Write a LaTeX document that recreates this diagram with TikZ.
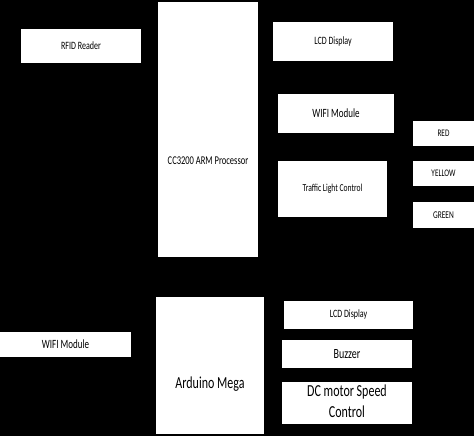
\documentclass[tikz,border=0pt]{standalone}
\usepackage{fontspec}
\setmainfont{Carlito}
\usepackage{graphicx}
\usetikzlibrary{positioning}

% text in the reference is drawn a little tall
\newcommand{\tall}[1]{\scalebox{1}[1.4]{#1}}

\begin{document}
\begin{tikzpicture}[x=1pt, y=-1pt,
		blk/.style={fill=white, draw=none, inner sep=0pt, align=center},
		lbl/.style={inner sep=0pt, align=center}]
	
	% --- background ---
	\fill[black] (0,0) rectangle (474,436);
	\useasboundingbox (0,0) rectangle (474,436);
	
	% --- TOP: CC3200 unit ---
	\node[blk, minimum width=100pt, minimum height=255pt] (cc) at (208,129.5) {};
	\node[lbl, font=\fontsize{8.5}{10}\selectfont] (ccText) at (208,161) {\tall{CC3200 ARM Processor}};
	\node[blk, minimum width=120pt, minimum height=34pt, font=\fontsize{8}{10}\selectfont] (rfid) at (81,46) {\tall{RFID Reader}};
	\node[blk, minimum width=120pt, minimum height=39pt, font=\fontsize{8}{10}\selectfont] (lcdA) at (333,41.5) {\tall{LCD Display}};
	\node[blk, minimum width=116pt, minimum height=39pt, font=\fontsize{9}{10}\selectfont] (wifiA) at (336,113.5) {\tall{WIFI Module}};
	\node[blk, minimum width=109pt, minimum height=56pt, font=\fontsize{7.6}{9}\selectfont] (tlc) at (332.5,189) {\tall{Traffic Light Control}};
	
	% traffic lights
	\node[blk, minimum width=61pt, minimum height=25pt, font=\fontsize{7.2}{8}\selectfont] (red) at (443.5,133.5) {\tall{RED}};
	\node[blk, minimum width=61pt, minimum height=25pt, font=\fontsize{7.2}{8}\selectfont] (yellow) at (443.5,173.5) {\tall{YELLOW}};
	\node[blk, minimum width=61pt, minimum height=26pt, font=\fontsize{7.4}{8}\selectfont] (green) at (443.5,215) {\tall{GREEN}};
	
	% --- BOTTOM: Arduino unit ---
	\node[blk, minimum width=108pt, minimum height=137pt] (ard) at (210,365.5) {};
	\node[lbl, font=\fontsize{12}{14}\selectfont] (ardText) at (210,384) {\tall{Arduino Mega}};
	\node[blk, minimum width=131pt, minimum height=25pt, font=\fontsize{9}{10}\selectfont] (wifiB) at (65.5,344.5) {\tall{WIFI Module}};
	\node[blk, minimum width=129pt, minimum height=28pt, font=\fontsize{8}{10}\selectfont] (lcdB) at (348.5,315) {\tall{LCD Display}};
	\node[blk, minimum width=130pt, minimum height=28pt, font=\fontsize{10}{12}\selectfont] (buzzer) at (347,354) {\tall{Buzzer}};
	\node[blk, minimum width=130pt, minimum height=41pt, font=\fontsize{12}{15}\selectfont] (dc) at (347,402.5)
		{\tall{\begin{tabular}{@{}c@{}}DC motor Speed\\Control\end{tabular}}};
	
\end{tikzpicture}
\end{document}
